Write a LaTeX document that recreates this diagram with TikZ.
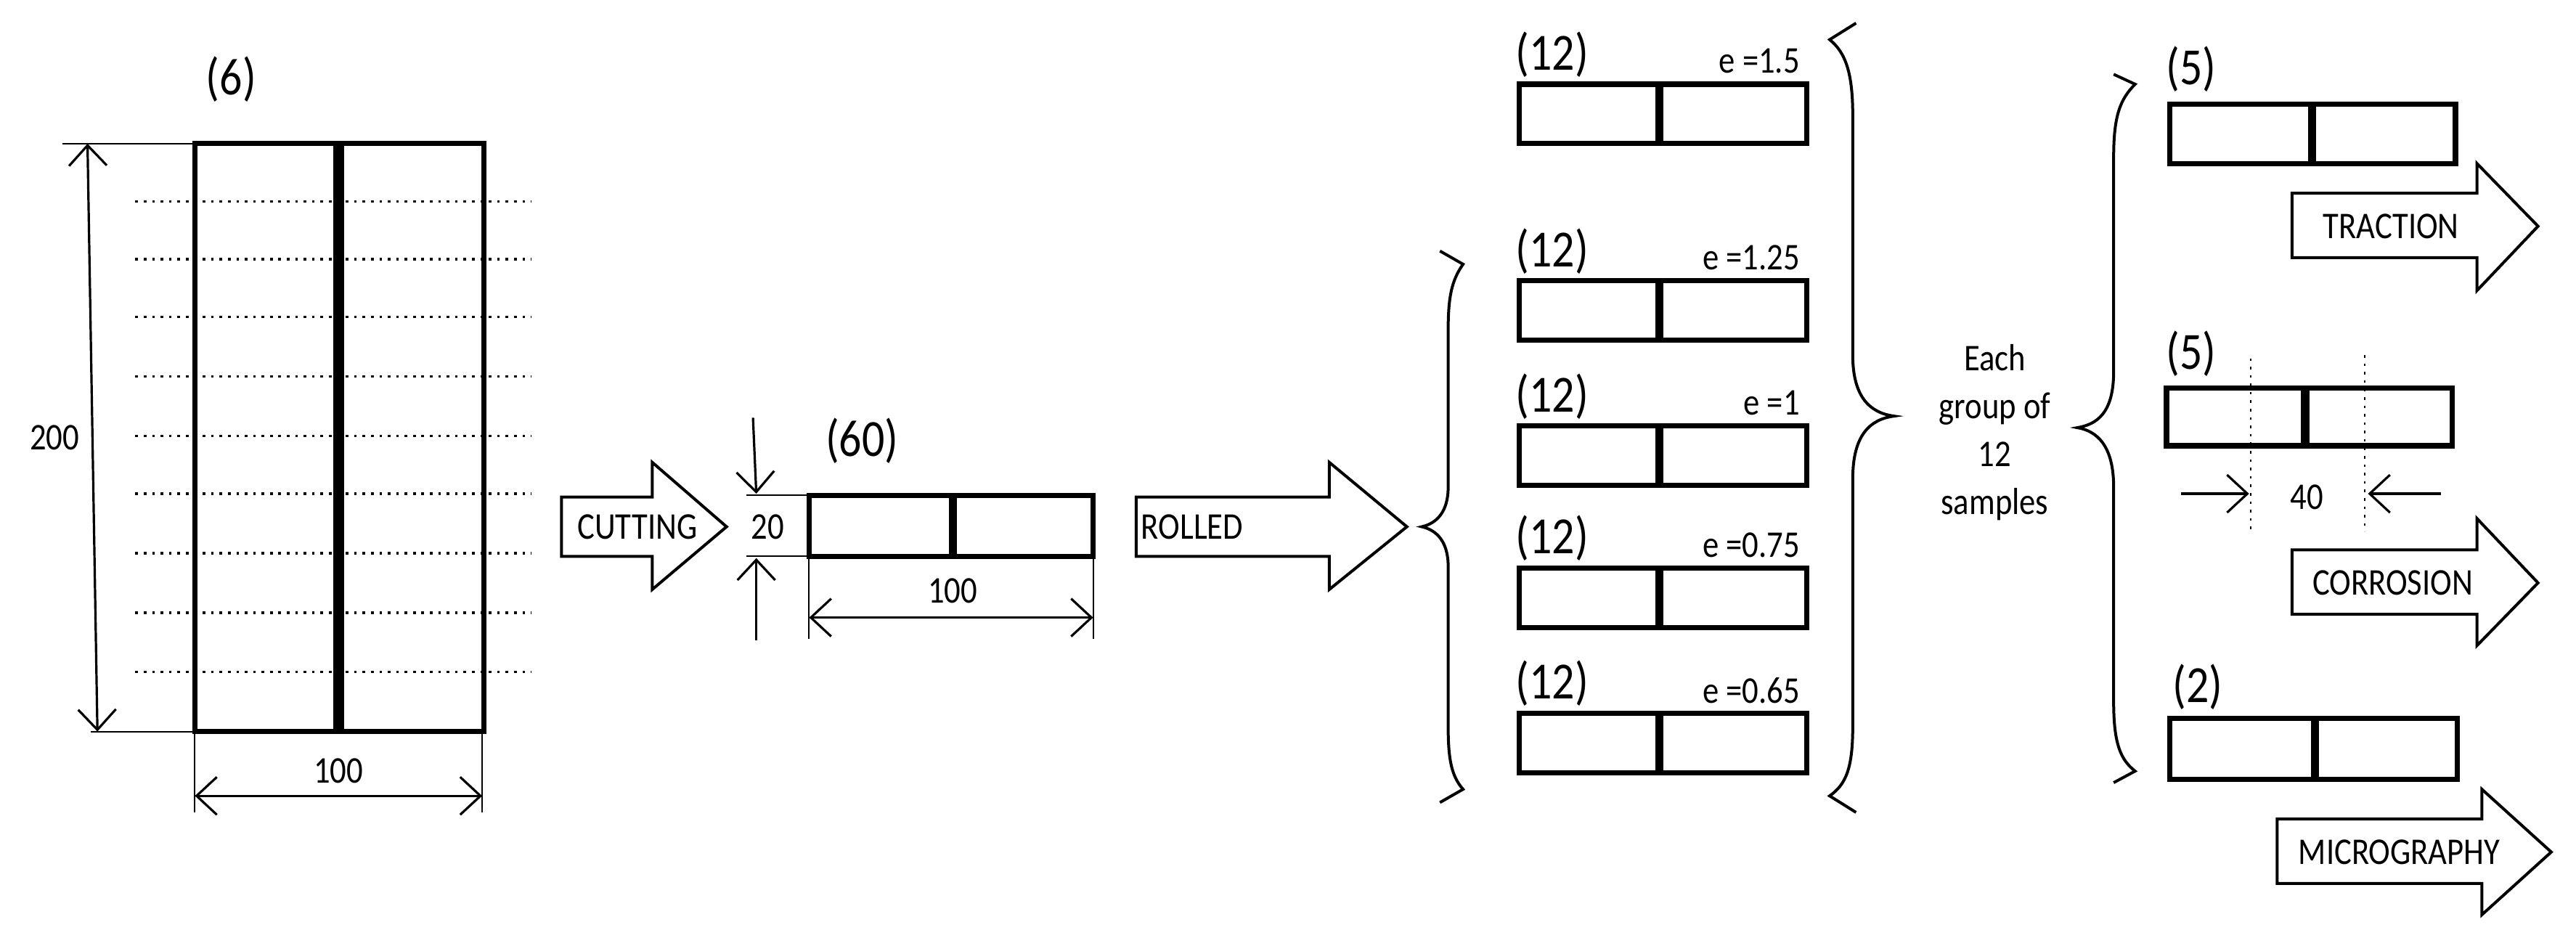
\documentclass[tikz,border=0pt]{standalone}
\usepackage{fontspec}
\setmainfont{Carlito}[FakeStretch=0.86]
\usetikzlibrary{arrows.meta}
\begin{document}
\begin{tikzpicture}[x=0.02cm,y=-0.02cm,
  lbl/.style={font=\fontsize{13}{15}\selectfont,inner sep=1pt},
  cnt/.style={font=\fontsize{18}{20}\selectfont,inner sep=1pt},
  box/.style={line width=1.8pt},
  bar/.style={line width=3.8pt},
  sbar/.style={line width=2.8pt},
  dim/.style={line width=0.8pt,{Straight Barb[length=7pt,width=13pt]}-{Straight Barb[length=7pt,width=13pt]}},
  sarr/.style={line width=0.8pt,-{Straight Barb[length=7pt,width=13pt]}},
  ext/.style={line width=0.5pt},
  dot/.style={line width=0.9pt,dotted},
  blk/.style={line width=1pt,fill=white},
  brace/.style={line width=1pt}]
\useasboundingbox (0,0) rectangle (1560,568);
% big plate
\foreach \y in {122,157,192,228,264,299,335,371,407} \draw[dot] (82,\y) -- (322,\y);
\draw[box] (118,87) rectangle (293,443);
\draw[bar] (205,87) -- (205,443);
\node[cnt] (n6) at (140,48) {(6)};
\coordinate (pt) at (53,87); \coordinate (pb) at (59,443);
\draw[ext] (38,87) -- (118,87); \draw[ext] (55,443) -- (118,443);
\draw[dim] (pt) -- (pb);
\node[lbl] (n200) at (33,265) {200};
\coordinate (pl) at (118,482); \coordinate (pr) at (292,482);
\draw[ext] (118,443) -- (118,492); \draw[ext] (292,443) -- (292,492);
\draw[dim] (pl) -- (pr);
\node[lbl] (n100a) at (205,467) {100};
% cutting arrow
\draw[blk] (340,301) -- (395,301) -- (395,280) -- (440,319) -- (395,357) -- (395,337) -- (340,337) -- cycle;
\node[lbl] (cut) at (386,319) {CUTTING};
% strip
\draw[box] (490,300) rectangle (662,337);
\draw[sbar] (577,300) -- (577,337);
\node[cnt] (n60) at (522,267) {(60)};
\node[lbl] (n20) at (465,319) {20};
\draw[ext] (452,300) -- (490,300); \draw[ext] (452,337) -- (490,337);
\coordinate (da) at (456,253); \coordinate (db) at (458,299);
\coordinate (ua) at (458,388); \coordinate (ub) at (458,338);
\draw[sarr] (da) -- (db); \draw[sarr] (ua) -- (ub);
\draw[ext] (490,337) -- (490,387); \draw[ext] (662,337) -- (662,387);
\coordinate (sl) at (490,374); \coordinate (sr) at (662,374);
\draw[dim] (sl) -- (sr);
\node[lbl] (n100b) at (577,358) {100};
% rolled arrow
\draw[blk] (688,301) -- (805,301) -- (805,280) -- (852,319) -- (805,357) -- (805,337) -- (688,337) -- cycle;
\node[lbl] (rol) at (722,319) {ROLLED};
% left brace
\draw[brace] (872,152) -- (886,160) .. controls (879,170) and (877,180) .. (877,200) -- (877,295)
  .. controls (877,310) and (870,317) .. (861,319) .. controls (870,321) and (877,328) .. (877,343)
  -- (877,440) .. controls (877,460) and (879,470) .. (886,478) -- (872,486);
% rolled samples
\foreach \ya/\lab [count=\i] in {51/1.5,170/1.25,258/1,344/0.75,432/0.65}{
  \draw[box] (920,\ya) rectangle (1094,\ya+36);
  \draw[sbar] (1005,\ya) -- (1005,\ya+36);
  \node[cnt] (c\i) at (940,\ya-18) {(12)};
  \node[lbl,anchor=east] (e\i) at (1092,\ya-14) {e =\lab};
}
% big right brace
\draw[brace] (1124,14) -- (1108,24) .. controls (1118,32) and (1122,45) .. (1122,70) -- (1122,215)
  .. controls (1122,240) and (1132,250) .. (1147,252) .. controls (1132,254) and (1122,264) .. (1122,290)
  -- (1122,440) .. controls (1122,465) and (1118,475) .. (1108,482) -- (1124,492);
\node[align=center,inner sep=1pt,font=\fontsize{13}{16.5}\selectfont] (grp) at (1208,262) {Each\\group of\\12\\samples};
% third brace
\draw[brace] (1280,45) -- (1293,51) .. controls (1284,60) and (1280,70) .. (1280,95) -- (1280,225)
  .. controls (1280,250) and (1270,257) .. (1258,259) .. controls (1270,261) and (1280,270) .. (1280,295)
  -- (1280,425) .. controls (1280,450) and (1284,460) .. (1293,467) -- (1280,474);
% right samples
\draw[box] (1314,63) rectangle (1487,99); \draw[sbar] (1400,63) -- (1400,99);
\node[cnt] (f1) at (1327,42) {(5)};
\draw[box] (1312,235) rectangle (1485,270); \draw[sbar] (1396,235) -- (1396,270);
\node[cnt] (f2) at (1327,214) {(5)};
\draw[box] (1314,435) rectangle (1488,472); \draw[sbar] (1402,435) -- (1402,472);
\node[cnt] (f3) at (1331,416) {(2)};
\draw[dot,line width=0.7pt] (1363,217) -- (1363,322);
\draw[dot,line width=0.7pt] (1432,215) -- (1432,322);
\node[lbl] (n40) at (1397,301) {40};
\coordinate (a1) at (1321,299); \coordinate (a2) at (1362,299);
\coordinate (b1) at (1478,299); \coordinate (b2) at (1434,299);
\draw[sarr] (a1) -- (a2); \draw[sarr] (b1) -- (b2);
% output arrows
\draw[blk] (1388,117) -- (1500,117) -- (1500,99) -- (1537,137) -- (1500,176) -- (1500,156) -- (1388,156) -- cycle;
\node[lbl] (tr) at (1448,137) {TRACTION};
\draw[blk] (1388,333) -- (1500,333) -- (1500,314) -- (1537,353) -- (1500,391) -- (1500,372) -- (1388,372) -- cycle;
\node[lbl] (co) at (1449,353) {CORROSION};
\draw[blk] (1379,496) -- (1503,496) -- (1503,478) -- (1545,516) -- (1503,554) -- (1503,535) -- (1379,535) -- cycle;
\node[lbl] (mi) at (1453,516) {MICROGRAPHY};
\end{tikzpicture}
\end{document}
